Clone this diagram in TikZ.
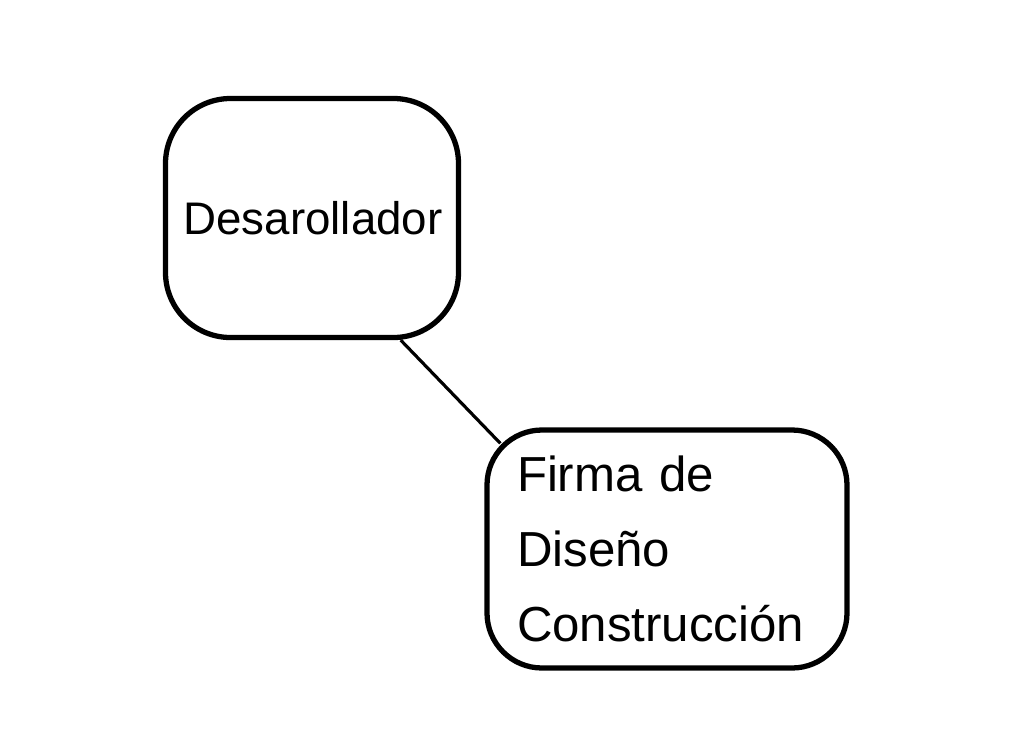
\documentclass[tikz,border=0pt]{standalone}
\usepackage{fontspec}
\setmainfont{Liberation Sans}
\usetikzlibrary{calc}

\begin{document}
\begin{tikzpicture}[sketchbox/.style={rectangle, rounded corners=1.3cm, draw=black, line width=3pt, font=\fontsize{26}{42}\selectfont, align=left},
                    sketchline/.style={draw=black, line width=1.8pt}]
    \useasboundingbox (0,0) rectangle (20.48,-14.88);
    % nodes
    \node[sketchbox, minimum width=5.86cm, minimum height=4.78cm, text width=5.14cm, inner xsep=0.36cm] (des)   at (6.24,-4.36)  {Desarollador};
    \node[sketchbox, minimum width=6.98cm, minimum height=4.76cm, text width=6.0cm, inner xsep=0.6cm, rounded corners=1.1cm, font=\fontsize{28}{42.5}\selectfont] (firma) at (13.34,-10.98) {Firma de\\Diseño\\Construcción};
    % lines
    \draw[sketchline] (des.-54.5) -- ($(firma.north west)+(0.32,-0.32)$);
\end{tikzpicture}
\end{document}
